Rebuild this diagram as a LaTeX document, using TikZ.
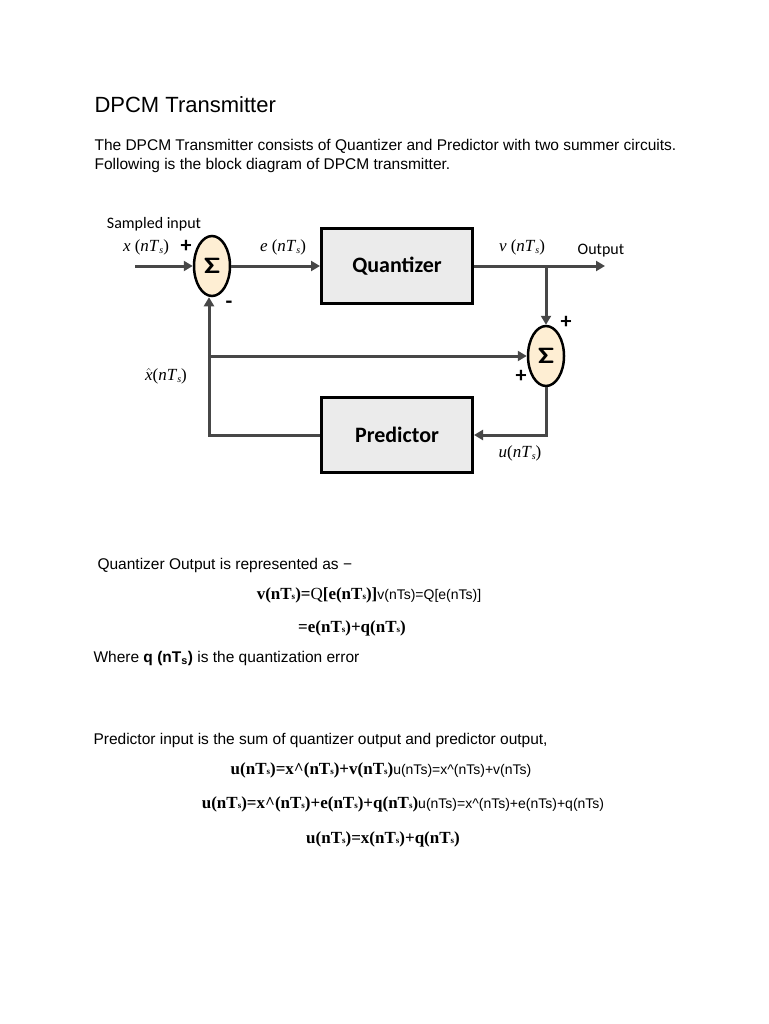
\documentclass[tikz,border=0pt]{standalone}
\usepackage{fontspec}
\setmainfont{Liberation Sans}
\newfontfamily\serifb{Liberation Serif}
\newfontfamily\diag{Carlito}
\usetikzlibrary{arrows.meta,shapes.geometric}
\newcommand{\nts}{nT{\fontsize{9}{9}\selectfont s}}
\newcommand{\eqf}{\serifb\fontsize{17}{20}\selectfont\bfseries}
\newcommand{\sm}{\normalfont\fontsize{14}{16}\selectfont}
\newcommand{\mT}{\textit{T}\raisebox{-2pt}{\fontsize{10}{10}\selectfont\textit{s}}}
\begin{document}
\begin{tikzpicture}[x=1pt,y=-1pt,
  wire/.style={draw=black!72,line width=3pt},
  arr/.style={wire,-{Triangle[length=9pt,width=10pt]}},
  blk/.style={draw=black,line width=3pt,fill=black!8,minimum width=151pt,minimum height=75pt,font=\diag\bfseries\fontsize{22}{24}\selectfont},
  summ/.style={draw=black,line width=2.5pt,fill=yellow!20!orange!15,ellipse,minimum width=36pt,minimum height=60pt,inner sep=0pt,font=\fontsize{22}{22}\selectfont},
  lab/.style={font=\fontsize{15.5}{17}\selectfont},
  dl/.style={font=\diag\fontsize{16}{18}\selectfont},
  ml/.style={font=\serifb\fontsize{17}{17}\selectfont},
  pl/.style={font=\diag\bfseries\fontsize{22}{22}\selectfont},
  eq/.style={anchor=base,font=\eqf}]
\useasboundingbox (0,0) rectangle (768,1024);
\node[anchor=base west,font=\fontsize{22}{24}\selectfont] (title) at (91,113) {DPCM Transmitter};
\node[anchor=base west,lab] (p1) at (91,151) {The DPCM Transmitter consists of Quantizer and Predictor with two summer circuits.};
\node[anchor=base west,lab] (p2) at (91,170) {Following is the block diagram of DPCM transmitter.};
% diagram
\node[blk] (q) at (397,266) {Quantizer};
\node[blk] (p) at (397,435) {Predictor};
\node[summ] (s1) at (212,266) {\textsf{\bfseries Σ}};
\node[summ] (s2) at (546,356) {\textsf{\bfseries Σ}};
\coordinate (in) at (135,266);
\coordinate (out) at (605,266);
\coordinate (tap) at (546,266);
\coordinate (fb) at (209,435);
\coordinate (br) at (209,356);
\coordinate (ur) at (546,435);
\draw[arr] (in) -- (s1.west);
\draw[arr] (s1.east) -- (q.west);
\draw[arr] (q.east) -- (out);
\draw[arr] (tap) -- (s2.north);
\draw[arr] (p.west) -- (fb) -- (fb |- s1.south);
\draw[arr] (br) -- (s2.west);
\draw[arr] (s2.south) -- (ur) -- (p.east);
\node[dl] (si) at (154,224) {Sampled input};
\node[ml] (xl) at (146,247) {\textit{x} (\textit{n}\mT)};
\node[pl] (pp1) at (186,246) {+};
\node[ml] (el) at (283,247) {\textit{e} (\textit{n}\mT)};
\node[ml] (vl) at (522,247) {\textit{v} (\textit{n}\mT)};
\node[dl] (ol) at (601,251) {Output};
\node[pl] (mn) at (229,305) {-};
\node[pl] (pp2) at (566,322) {+};
\node[pl] (pp3) at (521,376) {+};
\node[ml] (xh) at (166,376) {$\hat{\textit{x}}$(\textit{n}\mT)};
\node[ml] (ul) at (520,453) {\textit{u}(\textit{n}\mT)};
% text
\node[anchor=base west,lab] (t1) at (94,569) {Quantizer Output is represented as −};
\node[eq] (e1) at (369,599) {v(\nts)=\mdseries Q\bfseries[e(\nts)]\sm v(nTs)=Q[e(nTs)]};
\node[eq] (e2) at (352,632) {=e(\nts)+q(\nts)};
\node[anchor=base west,lab] (t2) at (90,662) {Where \textbf{q (nT\textsubscript{s})} is the quantization error};
\node[anchor=base west,lab] (t3) at (90,744) {Predictor input is the sum of quantizer output and predictor output,};
\node[eq] (e3) at (381,774) {u(\nts)=x\^{}(\nts)+v(\nts)\sm u(nTs)=x\^{}(nTs)+v(nTs)};
\node[eq] (e4) at (403,808) {u(\nts)=x\^{}(\nts)+e(\nts)+q(\nts)\sm u(nTs)=x\^{}(nTs)+e(nTs)+q(nTs)};
\node[eq] (e5) at (383,843) {u(\nts)=x(\nts)+q(\nts)};
\end{tikzpicture}
\end{document}
